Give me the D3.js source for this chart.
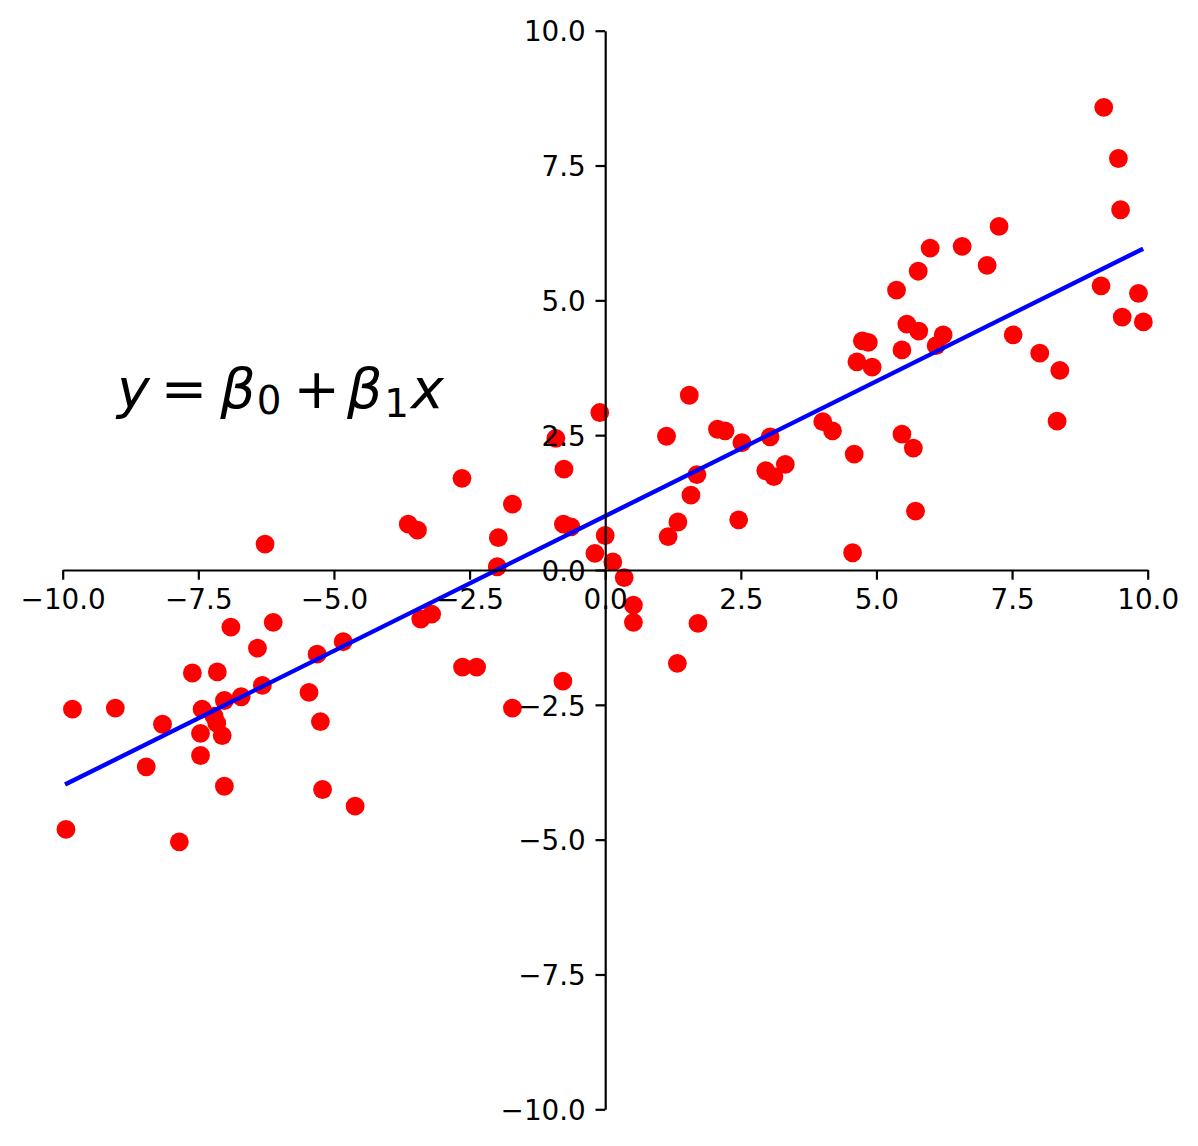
<!DOCTYPE html>
<html>
<head>
<meta charset="utf-8">
<script src="https://cdn.jsdelivr.net/npm/d3@7"></script>
<style>
  body { margin: 0; background: #fff; }
</style>
</head>
<body>
<div id="chart"></div>
<script>
// scatter points
const pointX = [
  -9.94, -9.82, -9.03, -8.46, -8.16, -7.85, -7.61, -7.46, -7.46, -7.43,
  -7.15, -7.21, -7.16, -7.06, -7.02, -7.02, -6.90, -6.71, -6.41, -6.32,
  -6.27, -6.12, -5.46, -5.31, -5.25, -5.21, -4.83, -4.61,
  -3.63, -3.46, -2.64, -1.71, -1.97, -1.99, -0.10, -0.91, -0.76, -0.77,
  -0.63, 0.00, -0.19, 0.14, 0.35, 0.52, 0.52, -3.40, -3.20, -2.63,
  -2.37, -0.78, -1.71,
  1.55, 1.13, 2.07, 2.21, 2.52, 3.04, 2.96, 3.11, 3.32, 4.01,
  4.19, 4.59, 4.56, 1.69, 1.58, 1.34, 1.16, 2.46, 1.71, 1.33,
  7.26, 5.99, 6.58, 5.77, 7.04, 5.37, 5.56, 5.78, 6.23, 6.10,
  5.47, 4.74, 4.85, 4.64, 4.92, 7.52, 8.01, 8.38, 8.33, 9.14,
  9.83, 9.53, 9.92, 5.47, 5.68, 5.72,
  9.19, 9.46, 9.50
]
const pointY = [
  -4.81, -2.58, -2.56, -3.65, -2.86, -5.04, -1.91, -3.03, -3.44, -2.58,
  -1.89, -2.71, -2.84, -3.07, -4.01, -2.42, -1.06, -2.35, -1.45, -2.14,
  0.48, -0.97, -2.27, -1.56, -2.81, -4.07, -1.33, -4.38,
  0.85, 0.74, 1.70, 1.22, 0.60, 0.06, 2.92, 2.44, 1.87, 0.85,
  0.80, 0.64, 0.31, 0.15, -0.14, -0.65, -0.97, -0.91, -0.82, -1.80,
  -1.80, -2.06, -2.56,
  3.24, 2.48, 2.61, 2.58, 2.36, 2.47, 1.84, 1.73, 1.96, 2.75,
  2.58, 2.15, 0.32, 1.77, 1.39, 0.89, 0.62, 0.93, -0.99, -1.73,
  6.37, 5.97, 6.00, 5.54, 5.65, 5.19, 4.56, 4.43, 4.36, 4.16,
  4.08, 4.25, 4.22, 3.86, 3.76, 4.36, 4.02, 3.70, 2.76, 5.27,
  5.13, 4.69, 4.60, 2.52, 2.26, 1.09,
  8.58, 7.63, 6.68
]

// fitted line y = b0 + b1 x over the data extent
const lineX = [-9.92, 9.88]
const lineY = [-3.96, 5.94]

const tickValues = [-10, -7.5, -5, -2.5, 0, 2.5, 5, 7.5, 10]
const xDomain = [-10, 10]
const yDomain = [-10, 10]

// equation anchor in data units
const eqX = -9
const eqY = 3

let width = 1198
let height = 1146

let xScale = d3.scaleLinear()
  .domain(xDomain)
  .range([62.7, 1147.7])

let yScale = d3.scaleLinear()
  .domain(yDomain)
  .range([1109.3, 30.7])

const svg = d3.select('#chart')
  .append('svg')
  .attr('width', width)
  .attr('height', height)
  .style('background', '#fff')

let points = pointX.map((x, i) => ({'x': x, 'y': pointY[i]}))

svg.selectAll('.dot')
  .data(points)
  .enter()
  .append('circle')
  .attr('class', 'dot')
  .attr('cx', d => xScale(d.x))
  .attr('cy', d => yScale(d.y))
  .attr('r', 9.4)
  .attr('fill', '#ff0000')

let lineGen = d3.line()
  .x(d => xScale(d[0]))
  .y(d => yScale(d[1]))

svg.append('path')
  .datum(lineX.map((x, i) => [x, lineY[i]]))
  .attr('d', lineGen)
  .attr('fill', 'none')
  .attr('stroke', '#0000ff')
  .attr('stroke-width', 4.4)
  .attr('stroke-linecap', 'square')

let fmt = d3.format('.1f')

let xAxis = g => g.attr('transform', `translate(0,${yScale(0)})`)
  .call(d3.axisBottom(xScale).tickValues(tickValues).tickFormat(fmt)
    .tickSize(9.7).tickSizeOuter(0).tickPadding(9.7))

let yAxis = g => g.attr('transform', `translate(${xScale(0)},0)`)
  .call(d3.axisLeft(yScale).tickValues(tickValues).tickFormat(fmt)
    .tickSize(9.7).tickSizeOuter(0).tickPadding(9.7))

let xG = svg.append('g').call(xAxis)
let yG = svg.append('g').call(yAxis)

;[xG, yG].forEach(function(g){
  g.attr('font-family', 'DejaVu Sans').attr('font-size', 27.8)
  g.selectAll('text').attr('fill', '#000')
  g.selectAll('path').attr('stroke', '#000').attr('stroke-width', 2.2)
  g.selectAll('line').attr('stroke', '#000').attr('stroke-width', 2.2)
})
yG.selectAll('text').attr('dy', '0.37em')

// y = β0 + β1 x, mathtext style
let eq = svg.append('text')
  .attr('x', xScale(eqX))
  .attr('y', yScale(eqY))
  .attr('font-family', 'DejaVu Sans')
  .attr('font-size', 55.5)
  .attr('fill', '#000')

eq.append('tspan').attr('font-style', 'italic').text('y')
eq.append('tspan').attr('dx', 11).text('=')
eq.append('tspan').attr('dx', 13).attr('font-style', 'italic').text('β')
eq.append('tspan').attr('dx', 1).attr('dy', 6).attr('font-size', 38.8).text('0')
eq.append('tspan').attr('dx', 12).attr('dy', -6).text('+')
eq.append('tspan').attr('dx', 7).attr('font-style', 'italic').text('β')
eq.append('tspan').attr('dx', 2).attr('dy', 9).attr('font-size', 38.8).text('1')
eq.append('tspan').attr('dx', 2).attr('dy', -9).attr('font-style', 'italic').text('x')
</script>
</body>
</html>
